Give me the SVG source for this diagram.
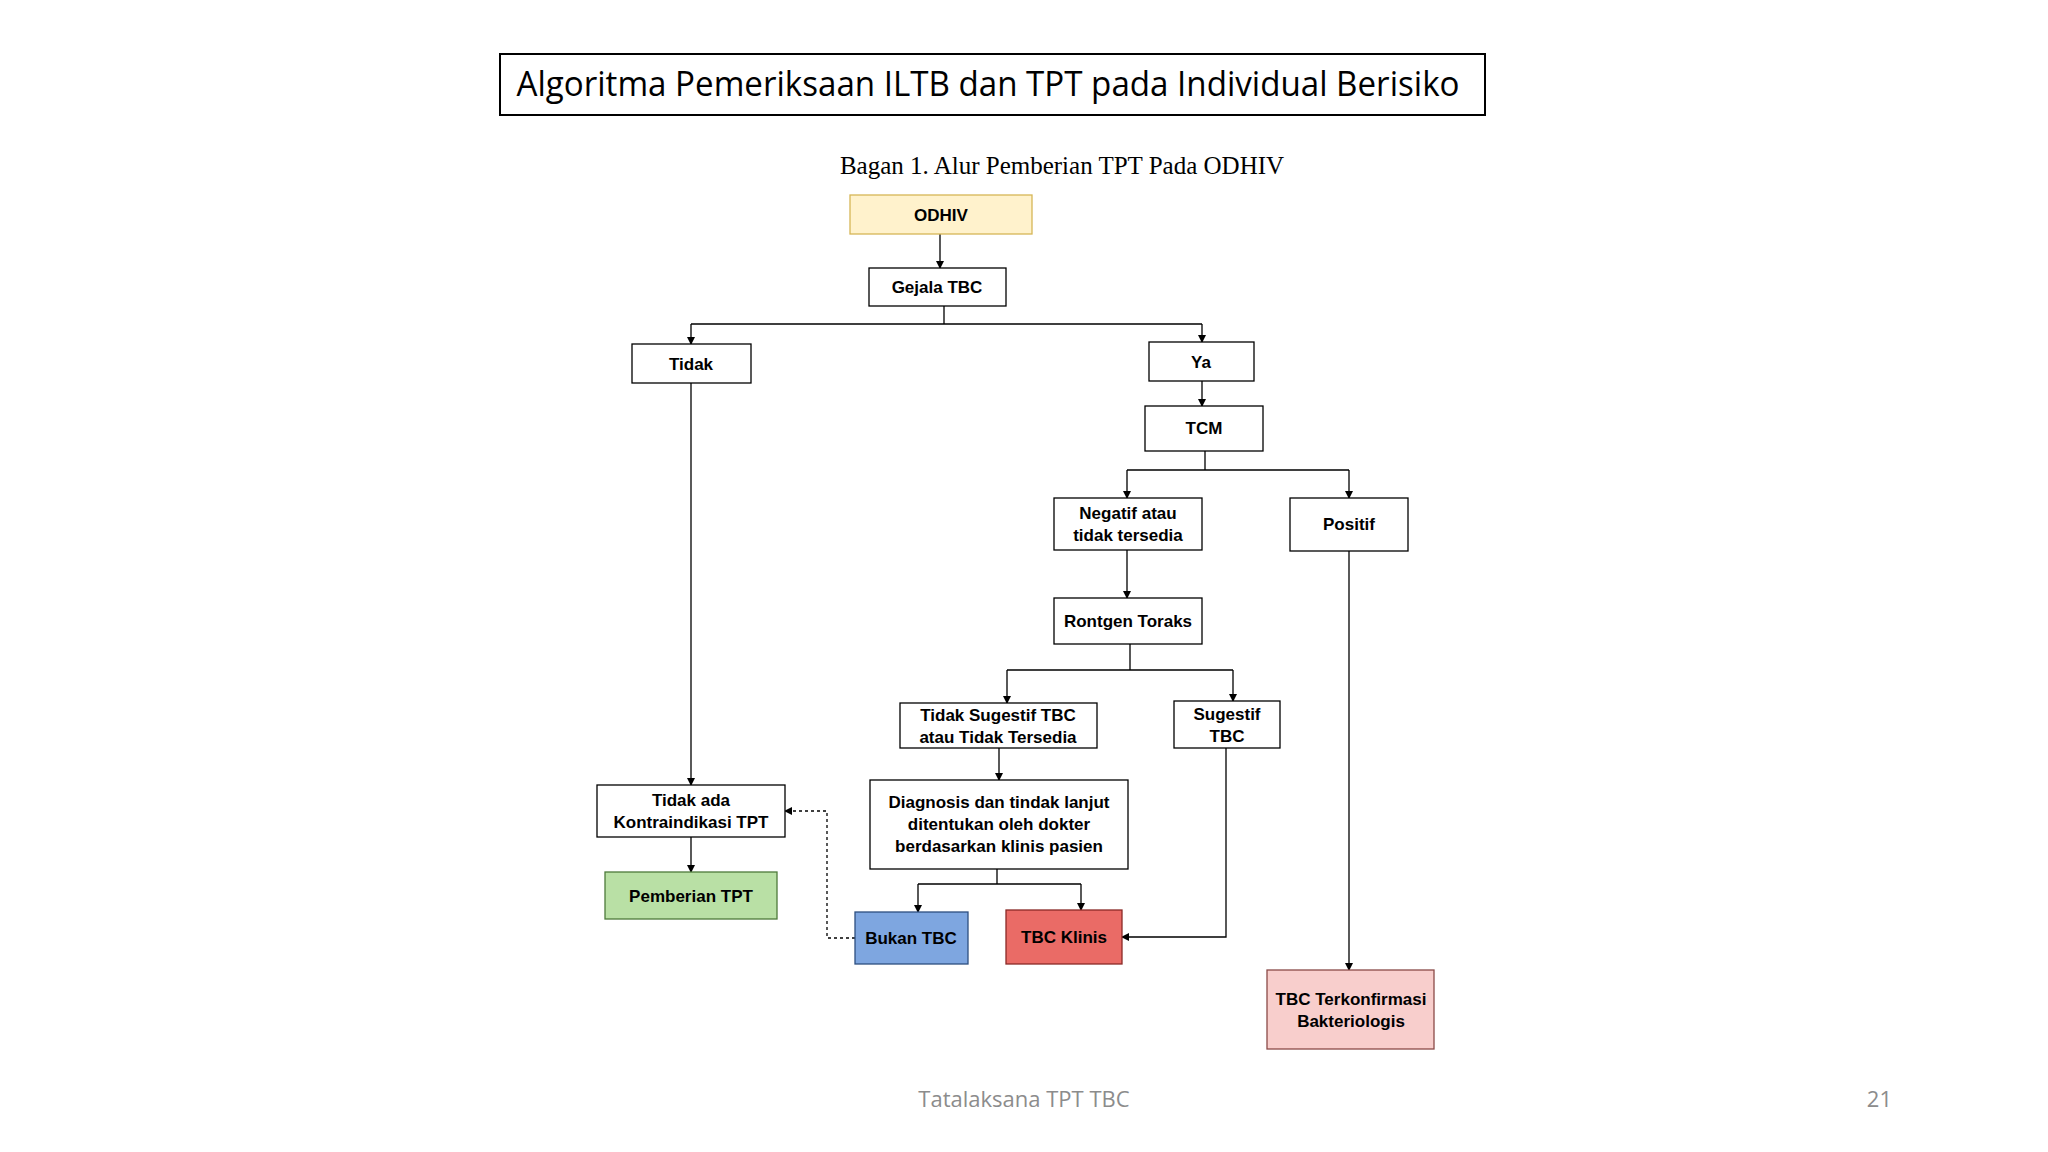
<svg xmlns="http://www.w3.org/2000/svg" width="2048" height="1152" viewBox="0 0 2048 1152">
<defs>
<marker id="a" markerWidth="8" markerHeight="8" refX="7" refY="4" orient="auto" markerUnits="userSpaceOnUse"><path d="M0,0 L8,4 L0,8 Z" fill="#000"/></marker>
<style>
.n rect{fill:#fff;stroke:#000;stroke-width:1.3}
.n text{font-family:"Liberation Sans",Arial,sans-serif;font-weight:bold;font-size:17px;text-anchor:middle;fill:#000}
.c path{fill:none;stroke:#000;stroke-width:1.3}
</style>
</defs>
<rect width="2048" height="1152" fill="#fff"/>
<rect x="500" y="54" width="985" height="61" fill="#fff" stroke="#000" stroke-width="2"/>
<text x="988" y="96" font-family="Open Sans,Liberation Sans,sans-serif" font-size="34" text-anchor="middle" textLength="943" lengthAdjust="spacingAndGlyphs">Algoritma Pemeriksaan ILTB dan TPT pada Individual Berisiko</text>
<text x="1062" y="174" font-family="Liberation Serif,serif" font-size="25" text-anchor="middle">Bagan 1. Alur Pemberian TPT Pada ODHIV</text>
<g class="c">
<path d="M940,234 V268" marker-end="url(#a)"/>
<path d="M944,306 V324 M691,324 H1202 M691,324 V344" marker-end="url(#a)"/>
<path d="M1202,324 V342" marker-end="url(#a)"/>
<path d="M691,383 V785" marker-end="url(#a)"/>
<path d="M1202,381 V406" marker-end="url(#a)"/>
<path d="M1205,451 V470 M1127,470 H1349 M1127,470 V498" marker-end="url(#a)"/>
<path d="M1349,470 V498" marker-end="url(#a)"/>
<path d="M1127,550 V598" marker-end="url(#a)"/>
<path d="M1130,644 V670 M1007,670 H1233 M1007,670 V703" marker-end="url(#a)"/>
<path d="M1233,670 V701" marker-end="url(#a)"/>
<path d="M999,748 V780" marker-end="url(#a)"/>
<path d="M997,869 V884 M918,884 H1081 M918,884 V912" marker-end="url(#a)"/>
<path d="M1081,884 V910" marker-end="url(#a)"/>
<path d="M1226,748 V937 H1122" marker-end="url(#a)"/>
<path d="M1349,551 V970" marker-end="url(#a)"/>
<path d="M691,837 V872" marker-end="url(#a)"/>
<path d="M855,938 H827 V811 H785" stroke-dasharray="3,3" marker-end="url(#a)"/>
</g>
<g id="odhiv" class="n"><rect x="850" y="195" width="182" height="39" style="fill:#fff2cc;stroke:#d6b656"/><text x="941" y="221">ODHIV</text></g>
<g id="gejala" class="n"><rect x="869" y="268" width="137" height="38"/><text x="937" y="293">Gejala TBC</text></g>
<g id="tidak" class="n"><rect x="632" y="344" width="119" height="39"/><text x="691" y="370">Tidak</text></g>
<g id="ya" class="n"><rect x="1149" y="342" width="105" height="39"/><text x="1201" y="368">Ya</text></g>
<g id="tcm" class="n"><rect x="1145" y="406" width="118" height="45"/><text x="1204" y="434">TCM</text></g>
<g id="negatif" class="n"><rect x="1054" y="498" width="148" height="52"/><text x="1128" y="519">Negatif atau</text><text x="1128" y="541">tidak tersedia</text></g>
<g id="positif" class="n"><rect x="1290" y="498" width="118" height="53"/><text x="1349" y="530">Positif</text></g>
<g id="rontgen" class="n"><rect x="1054" y="598" width="148" height="46"/><text x="1128" y="627">Rontgen Toraks</text></g>
<g id="tidaksug" class="n"><rect x="900" y="703" width="197" height="45"/><text x="998" y="721">Tidak Sugestif TBC</text><text x="998" y="743">atau Tidak Tersedia</text></g>
<g id="sugestif" class="n"><rect x="1174" y="701" width="106" height="47"/><text x="1227" y="720">Sugestif</text><text x="1227" y="742">TBC</text></g>
<g id="diagnosis" class="n"><rect x="870" y="780" width="258" height="89"/><text x="999" y="808">Diagnosis dan tindak lanjut</text><text x="999" y="830">ditentukan oleh dokter</text><text x="999" y="852">berdasarkan klinis pasien</text></g>
<g id="kontra" class="n"><rect x="597" y="785" width="188" height="52"/><text x="691" y="806">Tidak ada</text><text x="691" y="828">Kontraindikasi TPT</text></g>
<g id="pemberian" class="n"><rect x="605" y="872" width="172" height="47" style="fill:#b9e0a5;stroke:#4d7a3a"/><text x="691" y="902">Pemberian TPT</text></g>
<g id="bukan" class="n"><rect x="855" y="912" width="113" height="52" style="fill:#7ea6e0;stroke:#2d4f80"/><text x="911" y="944">Bukan TBC</text></g>
<g id="klinis" class="n"><rect x="1006" y="910" width="116" height="54" style="fill:#ea6b66;stroke:#8a2a27"/><text x="1064" y="943">TBC Klinis</text></g>
<g id="konfirm" class="n"><rect x="1267" y="970" width="167" height="79" style="fill:#f8cecc;stroke:#8a4a48"/><text x="1351" y="1005">TBC Terkonfirmasi</text><text x="1351" y="1027">Bakteriologis</text></g>
<text x="1024" y="1107" font-family="Open Sans,Liberation Sans,sans-serif" font-size="22" fill="#8c8c8c" text-anchor="middle">Tatalaksana TPT TBC</text>
<text x="1892" y="1107" font-family="Open Sans,Liberation Sans,sans-serif" font-size="22" fill="#8c8c8c" text-anchor="end">21</text>
</svg>
